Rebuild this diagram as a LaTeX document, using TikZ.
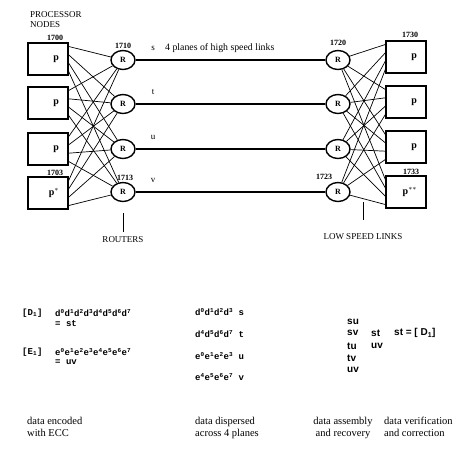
\documentclass[tikz,border=0pt]{standalone}
\usepackage{fontspec}
\setmainfont{Liberation Serif}
\setsansfont{Liberation Sans}
\setmonofont{Liberation Mono}
\usetikzlibrary{shapes.geometric,calc}

\tikzset{
  procbox/.style={draw, line width=1.4pt, minimum width=40pt, minimum height=32pt,
    text width=22pt, align=right, inner sep=0pt, font=\fontsize{10}{10}\selectfont\bfseries},
  router/.style={draw, ellipse, line width=1.4pt, minimum width=24pt, minimum height=19pt,
    inner sep=0pt, font=\fontsize{8}{8}\selectfont\bfseries},
  numlabel/.style={font=\fontsize{8}{8}\selectfont\bfseries, inner sep=0pt},
  tag/.style={font=\fontsize{9}{10.5}\selectfont, inner sep=0pt},
  caption/.style={font=\fontsize{10.5}{12}\selectfont, inner sep=0pt},
  codetext/.style={font=\fontsize{9}{10}\selectfont\ttfamily\bfseries, inner sep=0pt, anchor=west},
  pairtext/.style={font=\fontsize{10}{10}\selectfont\sffamily\bfseries, inner sep=0pt, anchor=west},
  fastlink/.style={line width=1.4pt},
  slowlink/.style={line width=0.7pt},
}

\begin{document}
\begin{tikzpicture}[x=1pt, y=-1pt]
    \useasboundingbox (0,0) rectangle (474,459);

    % Processor nodes, left side
    \node[tag, anchor=north west, align=left] (proclbl) at (30,11) {PROCESSOR\\NODES};
    \node[procbox] (pl1) at (48,59) {p};
    \node[procbox] (pl2) at (48,103) {p};
    \node[procbox] (pl3) at (48,149) {p};
    \node[procbox] (pl4) at (48,193) {p$^*$};
    \node[numlabel] (n1700) at (55,38) {1700};
    \node[numlabel] (n1703) at (55,173) {1703};

    % Processor nodes, right side
    \node[procbox] (pr1) at (406,57) {p};
    \node[procbox] (pr2) at (406,102) {p};
    \node[procbox] (pr3) at (406,147) {p};
    \node[procbox] (pr4) at (406,192) {p$^{**}$};
    \node[numlabel] (n1730) at (410,35) {1730};
    \node[numlabel] (n1733) at (411,172) {1733};

    % Routers on both ends of the planes
    \foreach \n/\y in {1/60, 2/104, 3/149, 4/192} {
        \node[router] (rl\n) at (123,\y) {R};
        \node[router] (rr\n) at (338,\y) {R};
    }
    \node[numlabel] (n1710) at (123,46) {1710};
    \node[numlabel] (n1713) at (125,178) {1713};
    \node[numlabel] (n1720) at (338,43) {1720};
    \node[numlabel] (n1723) at (324,177) {1723};

    % High speed links
    \foreach \n/\p in {1/s, 2/t, 3/u, 4/v} {
        \draw[fastlink] (rl\n) -- (rr\n);
        \node[tag] (plane\p) at ($(rl\n)+(30,-12)$) {\p};
    }
    \node[tag, anchor=west, font=\fontsize{9.8}{10}\selectfont] (planelbl) at (165,48) {4 planes of high speed links};

    % Low speed links (every processor to every router)
    \foreach \i in {1,...,4}
        \foreach \j in {1,...,4} {
            \draw[slowlink] ($(pl\i.north east)!{(\j-0.5)/4}!(pl\i.south east)$) -- (rl\j);
            \draw[slowlink] (rr\i) -- ($(pr\j.north west)!{(\i-0.5)/4}!(pr\j.south west)$);
        }

    % Pointers
    \coordinate (rtop) at (123,213);
    \coordinate (rbot) at (123,232);
    \draw[slowlink] (rtop) -- (rbot);
    \node[tag] (routerlbl) at (123,240) {ROUTERS};
    \coordinate (ltop) at (363,202);
    \coordinate (lbot) at (363,220);
    \draw[slowlink] (ltop) -- (lbot);
    \node[tag] (lowlbl) at (363,237) {LOW SPEED LINKS};

    % Encoded data
    \node[codetext] (dkey) at (22,313) {[D\textsubscript{1}]};
    \node[codetext] (dword) at (55,313) {d\textsuperscript{0}d\textsuperscript{1}d\textsuperscript{2}d\textsuperscript{3}d\textsuperscript{4}d\textsuperscript{5}d\textsuperscript{6}d\textsuperscript{7}};
    \node[codetext] (dsum) at (55,324) {= st};
    \node[codetext] (ekey) at (22,352) {[E\textsubscript{1}]};
    \node[codetext] (eword) at (55,352) {e\textsuperscript{0}e\textsuperscript{1}e\textsuperscript{2}e\textsuperscript{3}e\textsuperscript{4}e\textsuperscript{5}e\textsuperscript{6}e\textsuperscript{7}};
    \node[codetext] (esum) at (55,362) {= uv};

    % Dispersed data
    \node[codetext] (ds) at (195,312) {d\textsuperscript{0}d\textsuperscript{1}d\textsuperscript{2}d\textsuperscript{3} s};
    \node[codetext] (dt) at (195,334) {d\textsuperscript{4}d\textsuperscript{5}d\textsuperscript{6}d\textsuperscript{7} t};
    \node[codetext] (eu) at (195,356) {e\textsuperscript{0}e\textsuperscript{1}e\textsuperscript{2}e\textsuperscript{3} u};
    \node[codetext] (ev) at (195,377) {e\textsuperscript{4}e\textsuperscript{5}e\textsuperscript{6}e\textsuperscript{7} v};

    % Assembly and verification
    \node[pairtext] (su) at (347,322) {su};
    \node[pairtext] (sv) at (347,333) {sv};
    \node[pairtext] (tu) at (347,346) {tu};
    \node[pairtext] (tv) at (347,358) {tv};
    \node[pairtext] (uv) at (347,370) {uv};
    \node[pairtext] (st2) at (371,333) {st};
    \node[pairtext] (uv2) at (371,346) {uv};
    \node[pairtext] (stok) at (394,333) {st = [ D\textsubscript{1}]};

    % Captions
    \node[caption, anchor=north west, align=left] (cap1) at (27,417) {data encoded\\with ECC};
    \node[caption, anchor=north west, align=left] (cap2) at (195,417) {data dispersed\\across 4 planes};
    \node[caption, anchor=north, align=center] (cap3) at (343,417) {data assembly\\and recovery};
    \node[caption, anchor=north west, align=left] (cap4) at (384,417) {data verification\\and correction};
\end{tikzpicture}
\end{document}
